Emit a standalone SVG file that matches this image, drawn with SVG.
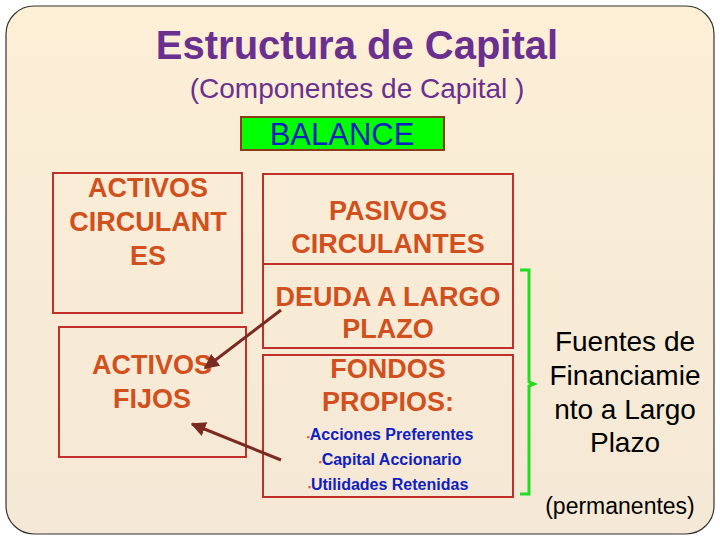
<svg xmlns="http://www.w3.org/2000/svg" width="720" height="540" viewBox="0 0 720 540">
<defs>
<linearGradient id="bg" x1="0" y1="0" x2="0" y2="1"><stop offset="0" stop-color="#FDEFD6"/><stop offset="1" stop-color="#F4E8D6"/></linearGradient>
<marker id="ah" viewBox="0 0 10 10" refX="9" refY="5" markerWidth="5" markerHeight="5" orient="auto"><path d="M0,0L10,5L0,10z" fill="#7A2A20"/></marker>
<style>
.box{fill:none;stroke:#C0302A;stroke-width:2}
.t{font-family:"Liberation Sans",Arial,sans-serif;text-anchor:middle}
.or{fill:#D0501E;font-weight:bold;font-size:27px}
.bl{fill:#1020C0;font-weight:bold;font-size:16px}
.bu{fill:#D06A40;font-size:9px}
.k{fill:#000;font-size:28px}
.ar{stroke:#7A2A20;stroke-width:3;fill:none;marker-end:url(#ah)}
</style>
</defs>
<rect x="6" y="6" width="708" height="528" rx="28" fill="url(#bg)" stroke="#333" stroke-width="1.2"/>
<text class="t" x="357" y="59" font-size="40" font-weight="bold" fill="#6A3090">Estructura de Capital</text>
<text class="t" x="357" y="98" font-size="28" fill="#6A3090">(Componentes de Capital )</text>
<g id="balance"><rect x="241" y="117" width="203" height="33" fill="#00FF00" stroke="#8B3A1A" stroke-width="2"/><text class="t" x="342" y="145" font-size="31" fill="#1020C0">BALANCE</text></g>
<g id="activos-circulantes"><rect class="box" x="53" y="173" width="189" height="140"/><text class="t or" x="148" y="197">ACTIVOS</text><text class="t or" x="148" y="231">CIRCULANT</text><text class="t or" x="148" y="265">ES</text></g>
<g id="activos-fijos"><rect class="box" x="59" y="327" width="187" height="130"/><text class="t or" x="152" y="374">ACTIVOS</text><text class="t or" x="152" y="408">FIJOS</text></g>
<g id="pasivos"><rect class="box" x="263" y="174" width="250" height="90"/><text class="t or" x="388" y="220">PASIVOS</text><text class="t or" x="388" y="253">CIRCULANTES</text></g>
<g id="deuda"><rect class="box" x="263" y="264" width="250" height="84"/><text class="t or" x="388" y="306">DEUDA A LARGO</text><text class="t or" x="388" y="338">PLAZO</text></g>
<g id="fondos"><rect class="box" x="263" y="355" width="250" height="142"/><text class="t or" x="388" y="378">FONDOS</text><text class="t or" x="388" y="411">PROPIOS:</text>
<text class="t bl" x="390" y="440"><tspan class="bu">▪</tspan>Acciones Preferentes</text>
<text class="t bl" x="390" y="465"><tspan class="bu">▪</tspan>Capital Accionario</text>
<text class="t bl" x="388" y="490"><tspan class="bu">▪</tspan>Utilidades Retenidas</text></g>
<g id="connectors">
<line class="ar" x1="281" y1="310" x2="205" y2="368"/>
<line class="ar" x1="281" y1="460" x2="192" y2="424"/>
<path d="M520,270H529V382L534,384L529,386V494H520" fill="none" stroke="#22DD22" stroke-width="3"/>
</g>
<g id="fuentes"><text class="t k" x="625" y="351">Fuentes de</text><text class="t k" x="625" y="385">Financiamie</text><text class="t k" x="625" y="419">nto a Largo</text><text class="t k" x="625" y="452">Plazo</text>
<text class="t" x="620" y="514" font-size="23" fill="#000">(permanentes)</text></g>
</svg>
